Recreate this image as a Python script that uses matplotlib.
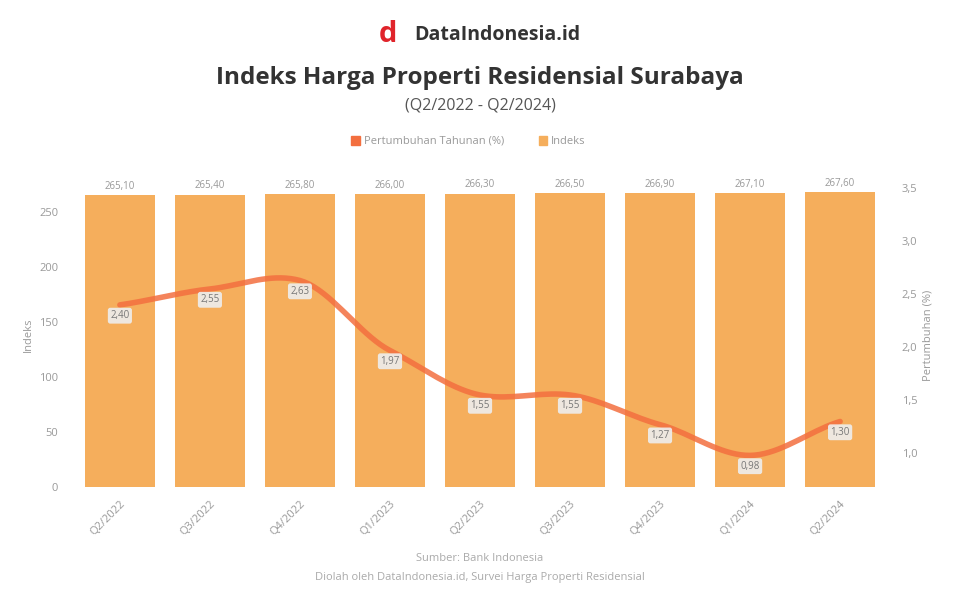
import numpy as np
import matplotlib.pyplot as plt

# ********************************************** DATA *****************************************************
quarters = ['Q2/2022', 'Q3/2022', 'Q4/2022', 'Q1/2023', 'Q2/2023',
            'Q3/2023', 'Q4/2023', 'Q1/2024', 'Q2/2024']
indeks = [265.1, 265.4, 265.8, 266.0, 266.3, 266.5, 266.9, 267.1, 267.6]      # bars, left axis
pertumbuhan = [2.40, 2.55, 2.63, 1.97, 1.55, 1.55, 1.27, 0.98, 1.30]          # line, right axis (%)
left_ticks = [0, 50, 100, 150, 200, 250]
right_ticks = [1.0, 1.5, 2.0, 2.5, 3.0, 3.5]

BAR_C = '#f5ae5c'
LINE_C = '#f36f3f'
GREY = '#999999'
plt.rcParams['font.family'] = ['Open Sans', 'DejaVu Sans']

# ********************************************** FIGURE *****************************************************
fig = plt.figure(figsize=(9.6, 6), dpi=100)
ax = fig.add_axes([0.078, 0.188, 0.844, 0.507])
ax2 = ax.twinx()

x = np.arange(len(quarters))
ax.bar(x, indeks, width=0.78, color=BAR_C, zorder=2)
for xi, v in zip(x, indeks):
    ax.text(xi, v + 3, f'{v:.2f}'.replace('.', ','), ha='center', va='bottom',
            fontsize=7, color=GREY)

# smooth line through the points (cubic hermite, drawing only)
xs, ys = [], []
m = np.gradient(np.array(pertumbuhan, float)) * 0.8
for i in range(len(x) - 1):
    t = np.linspace(0, 1, 20)
    h00 = 2*t**3 - 3*t**2 + 1
    h10 = t**3 - 2*t**2 + t
    h01 = -2*t**3 + 3*t**2
    h11 = t**3 - t**2
    xs.extend(x[i] + t)
    ys.extend(h00*pertumbuhan[i] + h10*m[i] + h01*pertumbuhan[i+1] + h11*m[i+1])
ax2.plot(xs, ys, color=LINE_C, lw=4, alpha=0.85, solid_capstyle='round', zorder=3)
for xi, v in zip(x, pertumbuhan):
    ax2.text(xi, v - 0.05, f'{v:.2f}'.replace('.', ','), ha='center', va='top', fontsize=7,
             color='#777777', zorder=4,
             bbox=dict(boxstyle='round,pad=0.25', fc='#eeeeee', ec='none', alpha=0.9))

ax.set_xlim(-0.5, len(quarters) - 0.5)
ax.set_ylim(0, 276)
ax2.set_ylim(0.68, 3.55)
ax.set_yticks(left_ticks)
ax2.set_yticks(right_ticks)
ax2.set_yticklabels([f'{t:.1f}'.replace('.', ',') for t in right_ticks])
ax.set_xticks(x)
ax.set_xticklabels(quarters, rotation=45, ha='right', rotation_mode='anchor')
for a in (ax, ax2):
    for s in a.spines.values():
        s.set_visible(False)
    a.tick_params(length=0, colors=GREY, labelsize=8)
ax.tick_params(axis='x', pad=8)
ax.tick_params(axis='y', pad=12)
ax2.tick_params(axis='y', pad=12)
ax.set_ylabel('Indeks', color=GREY, fontsize=8, labelpad=4)
ax2.set_ylabel('Pertumbuhan (%)', color=GREY, fontsize=8, labelpad=4)

# ********************************************** HEADER / FOOTER *****************************************************
fig.text(0.404, 0.942, 'd', color='#e0242b', fontsize=21, fontweight='bold', ha='center', va='center')
fig.text(0.431, 0.941, 'DataIndonesia.id', color='#333333', fontsize=14, fontweight='bold',
         ha='left', va='center')
fig.text(0.5, 0.87, 'Indeks Harga Properti Residensial Surabaya', color='#333333',
         fontsize=17.5, fontweight='bold', ha='center', va='center')
fig.text(0.5, 0.825, '(Q2/2022 - Q2/2024)', color='#555555', fontsize=11.5,
         ha='center', va='center')

# legend
fig.patches.append(plt.Rectangle((0.366, 0.758), 0.009, 0.015, transform=fig.transFigure,
                                 color=LINE_C, figure=fig))
fig.text(0.379, 0.765, 'Pertumbuhan Tahunan (%)', fontsize=8, color=GREY, va='center')
fig.patches.append(plt.Rectangle((0.561, 0.758), 0.009, 0.015, transform=fig.transFigure,
                                 color=BAR_C, figure=fig))
fig.text(0.574, 0.765, 'Indeks', fontsize=8, color=GREY, va='center')

fig.text(0.5, 0.065, 'Sumber: Bank Indonesia', fontsize=8, color='#aaaaaa', ha='center')
fig.text(0.5, 0.033, 'Diolah oleh DataIndonesia.id, Survei Harga Properti Residensial', fontsize=8,
         color='#aaaaaa', ha='center')

fig.savefig('out.png', dpi=100, facecolor='white')
